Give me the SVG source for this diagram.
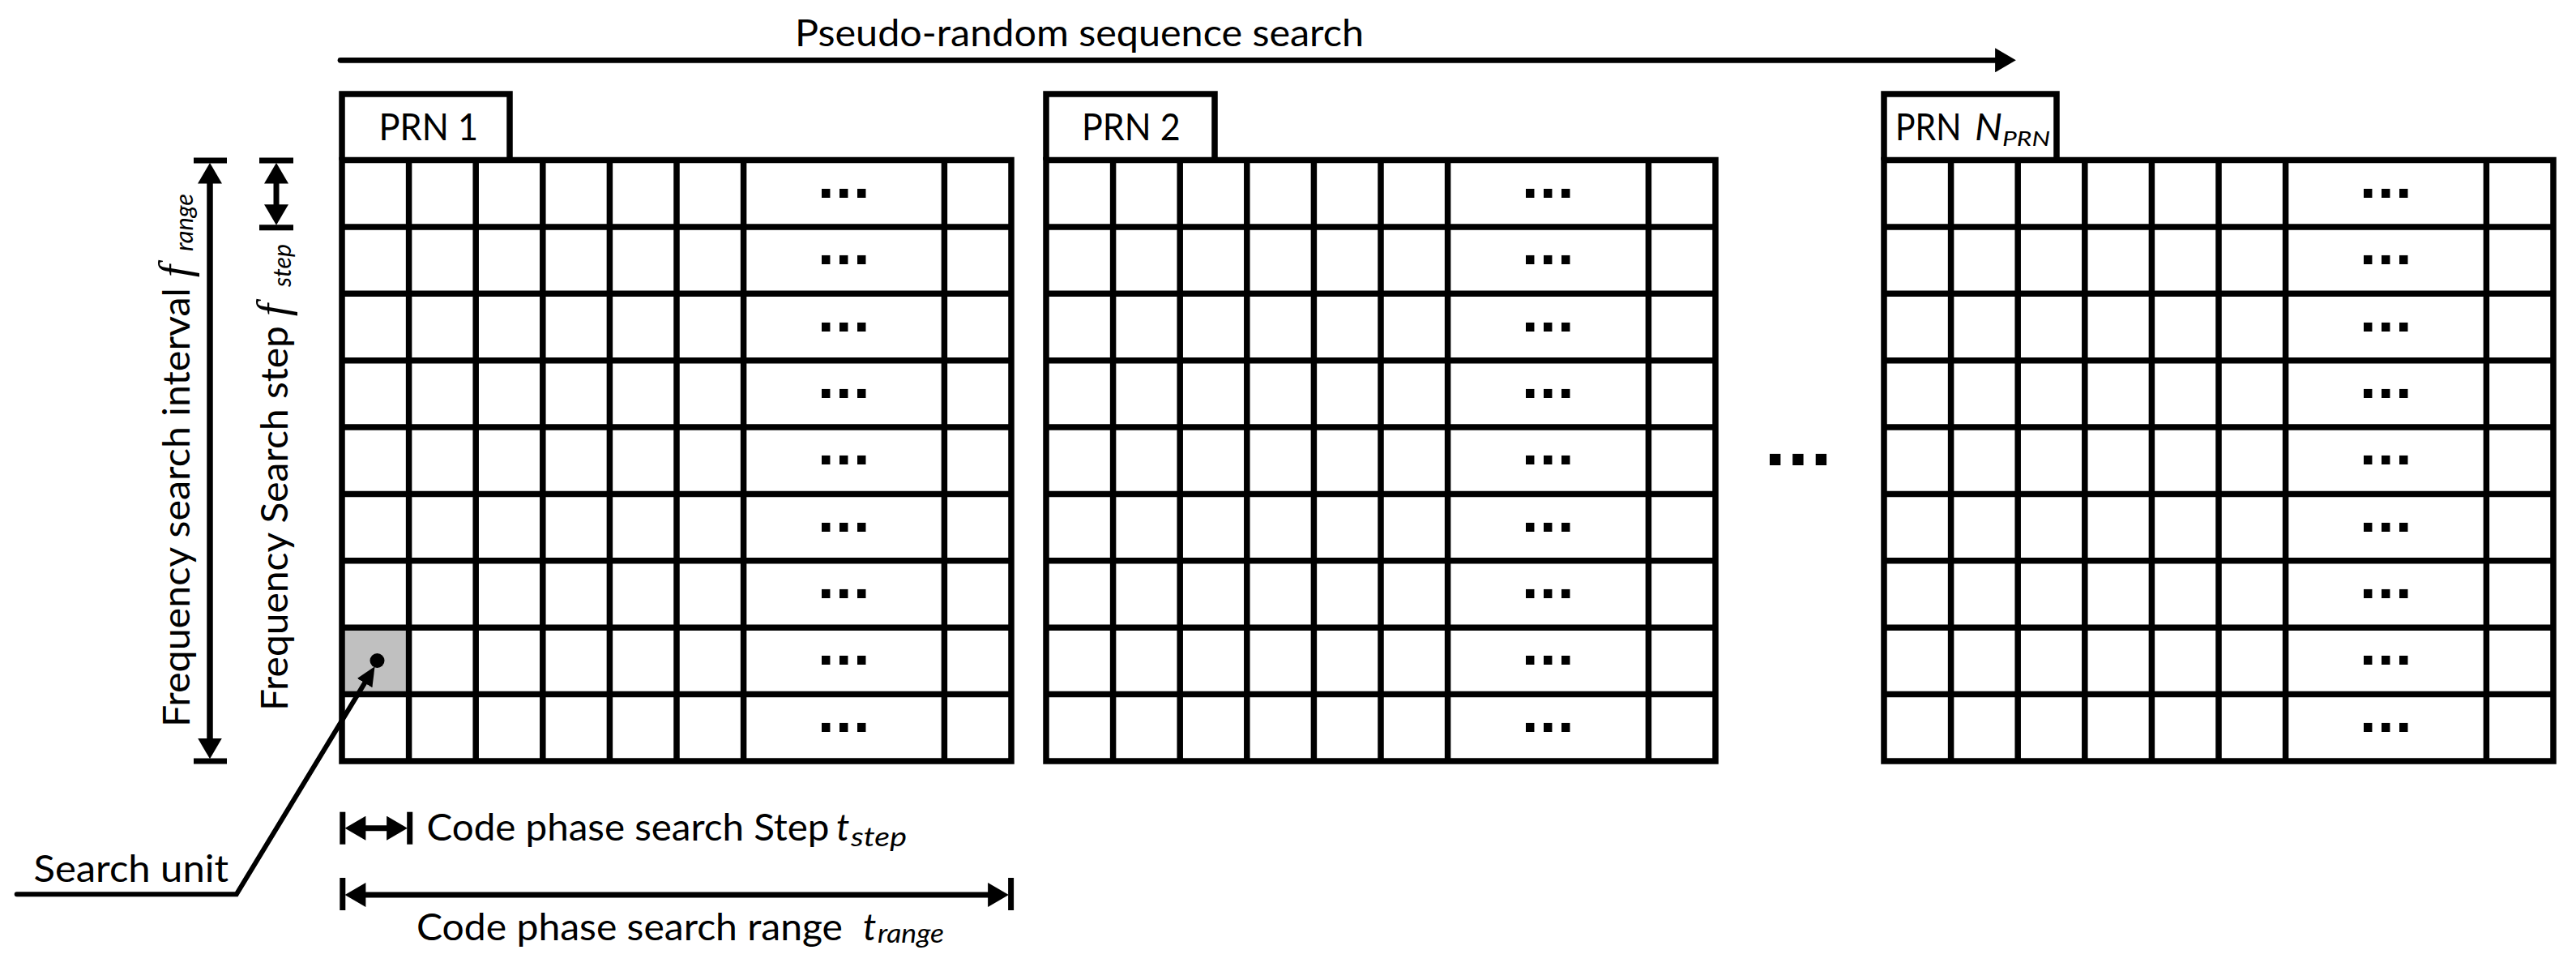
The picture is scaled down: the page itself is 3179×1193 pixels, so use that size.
<svg xmlns="http://www.w3.org/2000/svg" width="3179" height="1193" viewBox="0 0 3179 1193">
<style>
.grid{fill:none;stroke:#000;stroke-width:7.5;stroke-linecap:square;stroke-linejoin:miter}
.tab{fill:#fff;stroke:#000;stroke-width:7.5;stroke-linejoin:miter}
.t{font-family:Lato,"Open Sans","Liberation Sans",sans-serif;font-size:46px;fill:#000}
.it{font-style:italic}
.mf{font-family:"Liberation Serif","DejaVu Serif",serif;font-style:italic;font-size:54px}
.dots{font-family:"Liberation Sans",Arial,sans-serif;font-weight:bold;font-size:74px;letter-spacing:1.5px;text-anchor:middle;fill:#000}
.dim{stroke:#000;stroke-width:7;fill:none}
.bar{stroke:#000;stroke-width:7}
</style>
<defs>
<marker id="ah" markerUnits="userSpaceOnUse" markerWidth="26" markerHeight="30" viewBox="0 0 24 28" refX="12" refY="14" orient="auto-start-reverse"><path d="M0,0 L24,14 L0,28 z" fill="#000"/></marker>
<marker id="ahs" markerUnits="userSpaceOnUse" markerWidth="24" markerHeight="24" viewBox="0 0 22 20" refX="11" refY="10" orient="auto"><path d="M0,0 L22,10 L0,20 z" fill="#000"/></marker>
</defs>
<rect width="3179" height="1193" fill="#fff"/>

<g id="title">
<text class="t" x="981" y="57" textLength="702" lengthAdjust="spacingAndGlyphs">Pseudo-random sequence search</text>
</g>

<g id="prn1">
<rect x="422" y="774.2" width="82.6" height="82.4" fill="#c0c0c0"/>
<path class="tab" d="M422,197.5 V116 H629 V197.5"/>
<text class="t" x="467.6" y="173" textLength="122.5" lengthAdjust="spacingAndGlyphs">PRN 1</text>
<path class="grid" d="M422,197.5H1248M422,279.9H1248M422,362.3H1248M422,444.7H1248M422,527.1H1248M422,609.5H1248M422,691.8H1248M422,774.2H1248M422,856.6H1248M422,939H1248M422,197.5V939M504.6,197.5V939M587.2,197.5V939M669.8,197.5V939M752.4,197.5V939M835,197.5V939M917.6,197.5V939M1165.4,197.5V939M1248,197.5V939"/>
<text class="dots" x="1042" y="243.7">...</text>
<text class="dots" x="1042" y="326.1">...</text>
<text class="dots" x="1042" y="408.5">...</text>
<text class="dots" x="1042" y="490.9">...</text>
<text class="dots" x="1042" y="573.3">...</text>
<text class="dots" x="1042" y="655.7">...</text>
<text class="dots" x="1042" y="738">...</text>
<text class="dots" x="1042" y="820.4">...</text>
<text class="dots" x="1042" y="902.8">...</text>
<circle cx="465.5" cy="815" r="9" fill="#000"/>
</g>

<g id="prn2">
<path class="tab" d="M1291,197.5 V116 H1499 V197.5"/>
<text class="t" x="1335" y="173" textLength="121.7" lengthAdjust="spacingAndGlyphs">PRN 2</text>
<path class="grid" d="M1291,197.5H2117M1291,279.9H2117M1291,362.3H2117M1291,444.7H2117M1291,527.1H2117M1291,609.5H2117M1291,691.8H2117M1291,774.2H2117M1291,856.6H2117M1291,939H2117M1291,197.5V939M1373.6,197.5V939M1456.2,197.5V939M1538.8,197.5V939M1621.4,197.5V939M1704,197.5V939M1786.6,197.5V939M2034.4,197.5V939M2117,197.5V939"/>
<text class="dots" x="1911" y="243.7">...</text>
<text class="dots" x="1911" y="326.1">...</text>
<text class="dots" x="1911" y="408.5">...</text>
<text class="dots" x="1911" y="490.9">...</text>
<text class="dots" x="1911" y="573.3">...</text>
<text class="dots" x="1911" y="655.7">...</text>
<text class="dots" x="1911" y="738">...</text>
<text class="dots" x="1911" y="820.4">...</text>
<text class="dots" x="1911" y="902.8">...</text>
</g>

<g id="gap-ellipsis">
<text class="dots" x="2220" y="574" style="font-size:95px;letter-spacing:2px">...</text>
</g>

<g id="prnN">
<path class="tab" d="M2325,197.5 V116 H2538 V197.5"/>
<text class="t" x="2339" y="173"><tspan textLength="81.5" lengthAdjust="spacingAndGlyphs">PRN</tspan><tspan class="it" x="2437" textLength="34" lengthAdjust="spacingAndGlyphs">N</tspan><tspan class="it" x="2471" dy="7" style="font-size:26px" textLength="59" lengthAdjust="spacingAndGlyphs">PRN</tspan></text>
<path class="grid" d="M2325,197.5H3151M2325,279.9H3151M2325,362.3H3151M2325,444.7H3151M2325,527.1H3151M2325,609.5H3151M2325,691.8H3151M2325,774.2H3151M2325,856.6H3151M2325,939H3151M2325,197.5V939M2407.6,197.5V939M2490.2,197.5V939M2572.8,197.5V939M2655.4,197.5V939M2738,197.5V939M2820.6,197.5V939M3068.4,197.5V939M3151,197.5V939"/>
<text class="dots" x="2945" y="243.7">...</text>
<text class="dots" x="2945" y="326.1">...</text>
<text class="dots" x="2945" y="408.5">...</text>
<text class="dots" x="2945" y="490.9">...</text>
<text class="dots" x="2945" y="573.3">...</text>
<text class="dots" x="2945" y="655.7">...</text>
<text class="dots" x="2945" y="738">...</text>
<text class="dots" x="2945" y="820.4">...</text>
<text class="dots" x="2945" y="902.8">...</text>
</g>

<g id="freq-range-label">
<text class="t" transform="rotate(-90)" x="-897" y="234"><tspan textLength="542" lengthAdjust="spacingAndGlyphs">Frequency search interval</tspan><tspan class="mf" x="-342">f</tspan><tspan class="it" x="-310" dy="4" style="font-size:30px" textLength="71" lengthAdjust="spacingAndGlyphs">range</tspan></text>
</g>

<g id="freq-step-label">
<text class="t" transform="rotate(-90)" x="-877" y="355"><tspan textLength="475" lengthAdjust="spacingAndGlyphs">Frequency Search step</tspan><tspan class="mf" x="-390">f</tspan><tspan class="it" x="-354" dy="4" style="font-size:30px" textLength="53" lengthAdjust="spacingAndGlyphs">step</tspan></text>
</g>

<g id="code-step-label">
<text class="t" x="526.5" y="1037"><tspan textLength="497" lengthAdjust="spacingAndGlyphs">Code phase search Step</tspan><tspan class="it" x="1032">t</tspan><tspan class="it" x="1050" dy="7" style="font-size:32px" textLength="69" lengthAdjust="spacingAndGlyphs">step</tspan></text>
</g>

<g id="code-range-label">
<text class="t" x="514" y="1160"><tspan textLength="526" lengthAdjust="spacingAndGlyphs">Code phase search range</tspan><tspan class="it" x="1065">t</tspan><tspan class="it" x="1083" dy="3" style="font-size:33px" textLength="82" lengthAdjust="spacingAndGlyphs">range</tspan></text>
</g>

<g id="search-unit-label">
<text class="t" x="41.5" y="1088" textLength="240.5" lengthAdjust="spacingAndGlyphs">Search unit</text>
</g>

<g id="connectors">
<line x1="420" y1="74.3" x2="2475" y2="74.3" class="dim" style="stroke-width:6.7;stroke-linecap:round" marker-end="url(#ah)"/>
<line class="bar" x1="239" y1="198" x2="280" y2="198"/>
<line class="bar" x1="239" y1="939" x2="280" y2="939"/>
<line class="dim" x1="259" y1="213.7" x2="259" y2="923.5" style="stroke-width:7.5" marker-start="url(#ah)" marker-end="url(#ah)"/>
<line class="bar" x1="320" y1="198" x2="362" y2="198"/>
<line class="bar" x1="320" y1="280.7" x2="362" y2="280.7"/>
<line class="dim" x1="341" y1="213.7" x2="341" y2="265" marker-start="url(#ah)" marker-end="url(#ah)"/>
<line class="bar" x1="422.8" y1="1001.7" x2="422.8" y2="1041.7"/>
<line class="bar" x1="505.7" y1="1001.7" x2="505.7" y2="1041.7"/>
<line class="dim" x1="438.5" y1="1021.7" x2="490" y2="1021.7" marker-start="url(#ah)" marker-end="url(#ah)"/>
<line class="bar" x1="422.8" y1="1083" x2="422.8" y2="1123"/>
<line class="bar" x1="1247.6" y1="1083" x2="1247.6" y2="1123"/>
<line class="dim" x1="438.5" y1="1104" x2="1232" y2="1104" marker-start="url(#ah)" marker-end="url(#ah)"/>
<polyline points="20.7,1103.3 291.8,1103.3 456.3,832.4" style="fill:none;stroke:#000;stroke-width:6;stroke-linecap:round;stroke-linejoin:miter" marker-end="url(#ahs)"/>
</g>
</svg>
